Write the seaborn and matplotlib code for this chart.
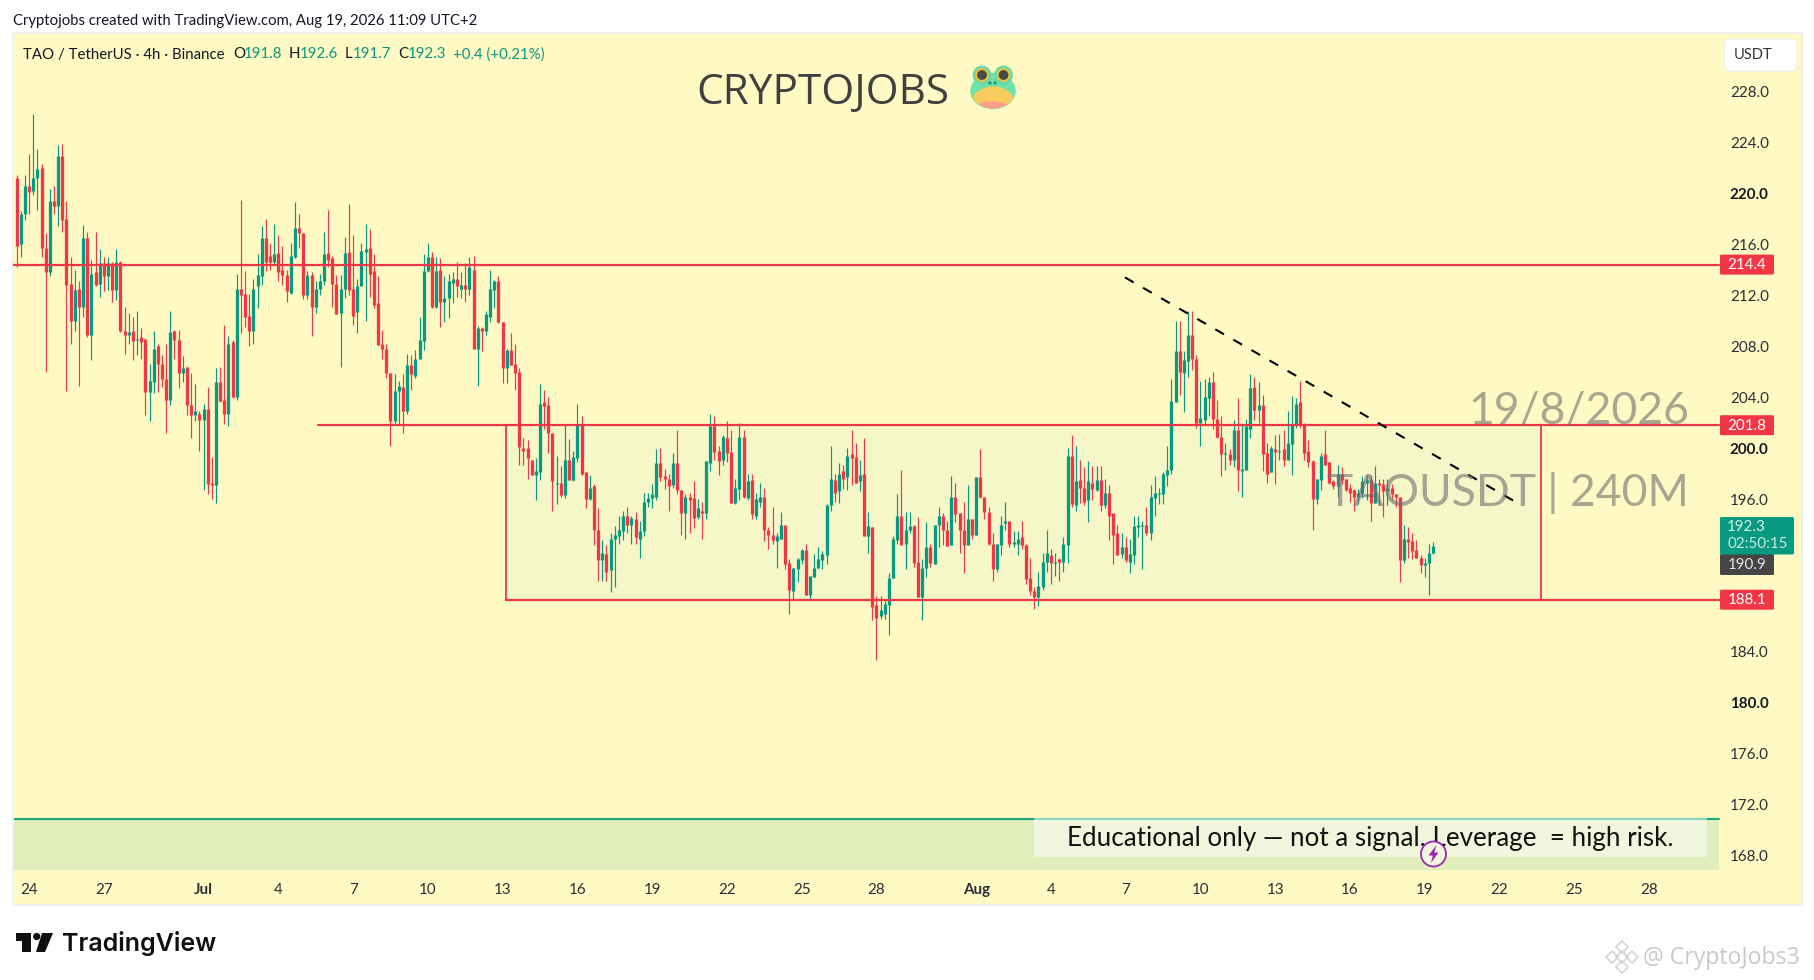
# Recreate TAOUSDT 4h chart (TradingView look) with seaborn

import pandas as pd
import seaborn as sns
import matplotlib.pyplot as plt
from matplotlib.patches import Rectangle, Ellipse, Circle, Polygon, FancyBboxPatch

# --- DATA ---
open_px = [
    221.2,216.0,218.4,220.6,220.2,221.2,222.0,215.7,213.8,219.4,
    219.0,222.9,218.0,212.9,210.0,212.5,211.1,216.5,208.9,213.8,
    212.9,214.5,213.5,214.5,212.4,214.6,209.2,208.9,209.2,208.5,
    208.7,208.6,204.4,205.2,208.0,206.6,205.4,203.8,209.2,208.5,
    205.9,206.4,203.4,202.6,202.7,202.2,203.1,197.3,197.1,205.2,
    203.8,202.7,208.3,204.0,212.5,212.1,210.4,209.2,212.7,213.5,
    216.5,215.1,214.6,215.3,214.0,213.6,212.2,215.0,217.3,216.9,
    212.0,213.6,211.1,212.5,213.1,215.3,214.9,212.9,210.6,212.5,
    215.4,212.5,210.7,212.7,215.4,215.7,213.9,211.4,208.2,207.8,
    205.9,202.1,204.5,204.8,202.9,206.5,205.7,207.0,208.4,213.9,
    215.0,211.1,214.0,211.5,211.8,213.0,213.3,212.5,212.8,212.5,
    214.0,207.8,209.4,209.2,210.3,212.4,213.1,209.9,206.3,207.7,
    206.6,206.0,200.0,200.0,199.1,197.9,198.1,203.6,203.4,201.2,
    197.2,197.3,196.3,199.1,197.5,199.2,201.9,198.1,196.0,197.0,193.6,
    191.2,191.7,190.4,192.9,193.1,193.5,194.7,194.0,194.4,192.9,
    193.5,195.8,196.1,196.2,198.8,197.8,197.6,197.1,198.8,196.7,
    194.9,196.2,196.1,194.6,195.1,194.9,198.8,201.7,199.8,199.1,
    200.8,199.7,195.7,196.8,200.9,196.1,197.5,194.7,195.8,196.2,
    193.6,193.2,192.7,192.9,194.0,191.0,188.8,190.5,191.2,192.0,
    188.5,189.9,190.6,191.2,191.6,195.5,197.5,196.6,198.2,197.7,
    199.5,199.3,197.4,198.0,193.1,193.8,187.7,186.8,187.0,187.7,
    189.8,192.8,194.7,192.5,193.6,193.9,191.1,188.3,190.6,192.2,
    190.9,194.0,194.7,193.6,192.4,196.2,194.9,193.6,192.4,194.4,
    193.2,197.7,196.2,195.0,192.5,190.5,192.4,194.1,194.3,192.5,
    192.5,193.0,192.4,189.8,188.8,188.3,189.1,191.1,191.6,191.0,
    191.3,191.1,192.4,199.4,195.5,197.5,196.9,195.9,197.3,196.7,
    197.5,195.5,196.5,194.9,193.3,191.7,192.2,191.1,191.6,193.8,
    193.9,194.0,193.3,196.1,196.4,196.4,197.9,
    198.3,203.6,207.6,205.9,206.8,208.9,207.0,202.0,202.2,203.9,
    205.2,202.3,200.9,199.5,199.5,199.1,201.4,198.2,198.3,201.5,
    204.8,203.0,203.4,199.6,198.1,199.9,199.7,199.9,199.1,200.3,
    201.8,203.6,201.9,199.8,199.0,196.0,197.5,199.5,198.9,197.4,
    197.0,198.0,197.6,196.9,196.7,196.2,196.5,197.3,197.5,195.7,
    197.3,197.2,196.6,196.9,196.4,196.2,191.2,192.9,192.7,192.0,
    191.4,190.8,191.0,191.8,
]
high_px = [
    221.4,218.6,221.4,223.1,226.2,223.5,222.3,216.9,220.3,220.6,
    223.8,223.9,219.4,215.0,214.0,213.1,217.5,217.0,214.8,217.0,
    215.6,215.0,215.0,214.6,215.6,214.7,211.1,210.6,210.3,210.8,
    209.4,208.6,206.6,209.2,208.2,207.3,208.2,210.8,209.3,209.3,
    207.2,206.4,205.9,205.0,202.9,203.5,204.8,199.3,206.3,206.4,
    209.7,208.8,208.5,213.7,219.5,213.9,212.1,213.3,215.2,217.4,
    218.0,216.1,217.6,216.7,215.9,214.0,216.1,219.3,218.4,216.9,
    213.9,213.8,213.1,213.7,217.0,218.7,215.1,213.6,213.6,216.6,
    219.2,216.7,213.3,216.1,217.6,217.2,215.2,213.5,209.3,208.2,
    205.9,205.8,205.3,205.8,207.4,207.3,207.7,210.3,215.2,216.1,
    215.4,215.0,214.9,213.5,213.7,213.8,214.6,213.8,214.5,215.0,
    215.1,209.6,209.5,210.8,214.0,213.2,213.5,209.9,207.8,209.0,
    208.2,206.3,200.8,200.6,199.1,199.2,205.0,204.6,204.0,201.2,
    199.4,198.6,201.9,200.7,199.8,203.5,202.5,198.1,197.9,197.2,195.3,
    192.8,192.4,193.3,193.9,194.7,195.1,195.4,194.7,195.0,194.3,
    196.5,196.5,197.2,199.9,200.0,198.4,198.0,199.6,201.4,196.7,
    196.4,196.5,197.4,196.0,195.8,199.0,202.7,202.5,200.2,201.0,
    202.1,201.4,197.6,202.0,201.4,198.0,198.0,196.5,197.3,196.9,
    193.8,195.4,193.3,195.0,194.0,191.3,190.6,191.4,192.1,192.5,
    190.0,191.7,192.2,191.9,195.6,200.2,198.0,198.8,198.7,200.0,
    201.4,200.4,199.1,200.8,195.0,193.8,188.4,188.4,188.1,190.2,
    193.1,196.4,198.3,195.0,195.0,194.0,194.6,191.3,194.2,192.5,
    194.0,195.4,194.9,194.3,197.8,197.3,194.9,195.8,197.1,194.4,
    197.7,199.9,196.2,195.4,193.3,192.5,194.7,195.8,194.3,193.5,
    193.5,194.3,192.5,191.4,189.1,190.3,191.8,193.6,192.1,191.8,
    191.4,193.0,200.0,201.0,200.2,199.1,198.5,199.0,198.6,198.6,
    198.6,197.6,197.1,194.9,194.0,193.3,193.0,192.9,194.7,194.7,
    194.3,195.4,197.1,197.8,196.9,198.1,200.2,
    205.4,210.0,210.0,207.6,210.8,210.8,207.3,205.3,205.4,205.6,
    206.0,203.8,202.5,200.4,199.9,202.2,203.9,201.8,202.3,205.8,
    205.6,205.2,204.2,200.4,200.2,201.0,201.1,201.4,202.9,204.1,
    203.9,205.3,202.0,200.6,199.1,197.6,199.6,201.4,198.9,197.5,
    198.7,198.5,197.6,197.2,196.8,196.8,197.8,197.9,197.9,198.6,
    197.6,197.6,197.6,197.2,196.4,196.2,194.0,193.8,193.3,192.8,
    191.6,191.4,192.5,192.6,
]
low_px = [
    214.2,215.0,217.9,218.4,219.9,218.7,215.0,206.0,213.5,218.4,
    217.4,217.0,204.5,208.2,209.2,204.9,210.3,208.7,206.9,212.7,
    211.9,212.3,212.4,211.5,211.6,209.1,207.4,208.2,206.9,207.3,
    207.0,202.6,202.1,204.3,204.4,204.8,201.2,203.4,207.0,204.7,
    205.2,202.6,200.8,202.1,199.8,196.7,196.4,196.0,195.7,203.6,
    201.9,201.7,203.9,203.8,209.0,209.5,208.0,208.2,211.0,212.8,
    213.9,214.0,214.4,213.1,212.8,211.5,212.1,214.9,215.7,211.7,
    211.7,208.8,210.6,212.0,212.8,214.2,211.1,210.5,206.4,211.8,
    212.0,209.7,209.0,212.7,210.0,211.9,211.0,208.1,207.0,205.5,
    200.2,201.8,201.9,201.2,202.7,204.6,205.5,207.0,207.7,213.8,
    211.0,211.0,209.5,209.9,210.2,211.4,211.9,211.8,211.5,212.0,
    207.8,204.9,207.6,208.9,209.9,211.0,209.8,205.1,205.1,206.5,
    204.6,198.7,198.7,197.6,197.9,195.9,197.5,201.5,199.6,195.1,
    195.6,196.2,196.1,197.5,197.4,198.9,197.9,195.3,195.9,192.4,189.6,
    189.6,189.6,188.7,189.1,192.5,192.8,193.3,192.5,192.5,191.4,
    193.1,195.4,195.3,195.9,197.4,196.8,195.1,196.9,196.4,193.2,
    192.9,193.3,193.7,194.4,192.9,194.4,198.2,199.1,197.9,198.7,
    198.9,195.7,195.6,195.9,196.1,195.9,194.4,194.4,195.4,192.7,
    192.1,192.5,190.6,192.9,190.5,187.0,188.1,189.5,190.9,188.5,
    188.1,189.9,190.6,190.5,190.9,195.1,195.8,195.7,196.8,196.7,
    197.1,197.3,196.6,193.1,191.8,186.5,183.4,186.6,186.6,185.3,
    189.8,192.5,192.4,190.5,193.3,190.7,188.3,186.5,189.9,190.7,
    190.9,192.2,192.4,192.3,192.4,194.2,191.8,190.2,192.4,192.9,
    193.2,196.1,194.4,192.4,189.6,190.3,191.6,193.6,192.2,192.2,
    191.6,192.1,189.3,188.5,187.4,187.6,188.9,190.3,189.3,190.0,
    189.6,190.3,191.0,195.4,195.1,195.7,195.5,194.2,195.9,196.6,
    195.1,195.3,192.8,190.9,191.6,191.4,191.1,190.2,190.9,193.0,
    190.5,193.2,192.8,194.7,195.6,195.6,197.0,
    198.0,203.6,204.2,202.8,205.6,206.1,201.6,200.2,201.8,202.5,
    201.5,200.8,197.8,198.3,198.7,198.5,196.6,196.2,198.3,200.8,
    202.2,202.0,198.2,197.3,198.1,197.2,199.1,198.6,199.1,197.9,
    201.6,201.6,199.1,198.5,193.6,195.6,196.7,198.7,197.2,196.8,
    196.2,197.2,196.6,195.8,195.1,195.6,196.1,195.9,194.3,195.7,
    195.5,194.6,195.5,195.9,195.4,189.5,191.0,191.4,191.3,191.4,
    190.2,189.9,188.5,191.7,
]
close_px = [
    215.9,218.4,220.6,220.1,221.2,221.9,215.7,213.8,219.4,219.0,
    222.9,217.9,212.8,210.0,212.4,211.1,216.5,208.9,213.7,212.8,
    214.5,213.5,214.5,212.4,214.6,209.2,208.9,209.1,208.4,208.6,
    208.3,204.4,205.3,207.8,206.6,205.4,203.8,209.1,208.5,205.9,
    206.3,203.4,202.6,202.9,202.2,203.1,197.2,197.1,205.2,203.7,
    202.7,208.2,204.0,212.5,212.0,210.3,209.2,212.5,213.6,216.5,
    214.6,214.6,215.2,213.8,213.6,212.3,215.1,217.3,216.9,212.0,
    213.6,211.1,212.5,213.1,215.2,214.8,212.9,210.5,212.5,215.3,
    212.4,210.4,212.7,215.5,215.6,213.7,211.2,208.1,207.8,205.9,
    202.1,204.5,204.9,202.9,206.5,205.8,207.0,208.5,213.9,215.0,
    211.1,213.9,211.5,211.8,213.1,213.3,212.7,212.8,212.5,214.2,
    207.8,209.4,209.2,210.5,212.5,213.1,209.9,206.3,207.7,206.5,
    205.9,200.1,199.8,199.2,197.9,198.2,203.5,203.3,201.2,197.4,
    197.3,196.3,199.1,197.5,199.3,201.9,198.0,196.0,196.9,193.6,191.2,
    191.8,190.3,192.9,193.2,193.6,194.7,194.0,194.5,193.0,193.5,
    195.8,196.1,196.4,198.8,197.7,197.6,197.0,198.8,196.7,194.9,
    196.2,195.9,194.5,195.3,194.9,199.0,201.7,199.7,199.0,200.9,
    199.6,195.7,196.9,200.9,196.2,197.4,194.8,196.0,196.2,193.6,
    193.2,192.8,193.1,194.0,190.9,188.9,190.6,191.3,192.0,188.5,
    190.0,190.6,191.3,191.7,195.5,197.6,196.5,198.0,197.6,199.4,
    199.2,197.3,197.9,193.1,193.9,187.5,186.7,187.3,187.8,189.8,
    192.9,194.7,192.4,193.6,193.9,191.0,188.3,190.6,192.2,191.0,
    194.0,194.7,193.6,192.3,196.2,194.8,193.6,192.4,194.4,193.2,
    197.7,196.2,195.0,192.5,190.5,192.5,194.0,194.3,192.5,192.6,
    192.9,192.4,189.7,188.8,188.3,189.2,191.1,191.8,191.0,191.1,
    191.1,192.5,199.4,195.6,197.4,196.9,195.8,197.4,196.8,197.5,
    195.5,196.5,194.7,193.2,191.6,192.2,191.2,191.7,193.9,194.0,
    194.0,193.3,196.2,196.5,196.5,198.0,198.3,
    203.7,207.6,206.0,206.9,208.9,207.0,202.0,202.4,204.0,205.2,
    202.3,200.9,199.5,199.6,199.1,201.4,198.3,198.4,201.7,204.7,
    203.0,203.4,199.5,198.0,200.0,199.7,199.8,199.1,200.4,201.9,
    203.5,201.8,199.6,198.9,196.0,197.6,199.4,198.7,197.3,197.0,
    198.0,197.5,196.7,196.5,196.2,196.5,197.4,197.5,195.7,197.3,
    197.1,196.6,196.9,196.4,196.2,191.2,192.9,192.6,191.9,191.4,
    190.8,191.0,191.8,192.3,
]

price_ticks = [168, 172, 176, 180, 184, 196, 200, 204, 208, 212, 216, 220, 224, 228]
bold_prices = [180, 200, 220]
x_tick_days = [0, 3, 7, 10, 13, 16, 19, 22, 25, 28, 31, 34, 38, 41, 44, 47, 50, 53, 56, 59, 62, 65]
x_tick_labels = ["24", "27", "Jul", "4", "7", "10", "13", "16", "19", "22", "25", "28",
                 "Aug", "4", "7", "10", "13", "16", "19", "22", "25", "28"]
bold_x_labels = ["Jul", "Aug"]

level_top = 214.4
level_mid = 201.8
level_low = 188.1
band_top = 170.9
band_bottom = 166.9
trend_prices = [213.4, 195.85]

# --- COLORS ---
BG = "#FFF9C3"
GREEN = "#089981"
RED = "#F23645"
BOX_FILL = "#F5F7C9"
BAND_FILL = "#E0EEBC"
BAND_LINE = "#1FA67F"

# --- CONFIG ---
sns.set_theme(style="white")
plt.rcParams["font.family"] = ["Lato", "DejaVu Sans"]

W, H = 1814, 980
fig = plt.figure(figsize=(W / 100, H / 100), dpi=100, facecolor="white")
ax = fig.add_axes([13 / W, (H - 905) / H, (1802 - 13) / W, (905 - 33) / H], facecolor=BG)


# helper: pixel column on the picture -> candle index on the x axis
def ix(px):
    return (px - 16.6) / 4.154


# --- CANDLES ---
df = pd.DataFrame({"o": open_px, "h": high_px, "l": low_px, "c": close_px})
df["i"] = range(len(df))
df["dir"] = ["up" if c >= o else "down" for o, c in zip(df["o"], df["c"])]
wicks = df.melt(id_vars=["i", "dir"], value_vars=["l", "h"], value_name="price")
bodies = df.melt(id_vars=["i", "dir"], value_vars=["o", "c"], value_name="price")
pal = {"up": GREEN, "down": RED}

ax.add_patch(Rectangle((ix(506), level_low), ix(1541) - ix(506), level_mid - level_low,
                       facecolor=BOX_FILL, edgecolor=RED, linewidth=1.3, zorder=1))
ax.axhspan(band_bottom, band_top, xmax=(1719 - 13) / (1802 - 13), color=BAND_FILL, lw=0, zorder=1)

sns.lineplot(data=wicks, x="i", y="price", hue="dir", units="i", estimator=None, palette=pal,
             legend=False, ax=ax, linewidth=0.85, solid_capstyle="butt", zorder=2)
sns.lineplot(data=bodies, x="i", y="price", hue="dir", units="i", estimator=None, palette=pal,
             legend=False, ax=ax, linewidth=2.35, solid_capstyle="butt", zorder=2.1)

# --- DRAWINGS ---
pane_end = ix(1719)
ax.plot([ix(13), pane_end], [level_top, level_top], color=RED, lw=1.6, zorder=3)
ax.plot([ix(318), pane_end], [level_mid, level_mid], color=RED, lw=1.6, zorder=3)
ax.plot([ix(506), pane_end], [level_low, level_low], color=RED, lw=1.6, zorder=3)
ax.plot([ix(1125), ix(1514)], trend_prices, color="black", lw=1.5, dashes=(4.8, 5.2), zorder=3.2)
ax.plot([ix(13), pane_end], [band_top, band_top], color=BAND_LINE, lw=1.5, zorder=2.5)
ax.add_patch(Rectangle((ix(1034), 167.9), ix(1707) - ix(1034), band_top + 0.1 - 167.9,
                       facecolor="white", alpha=0.5, lw=0, zorder=2.6))

# --- AXES ---
ax.set_xlim(ix(13), ix(1802))
ax.set_ylim(228 - (905 - 91.4) / 12.74, 228 + (91.4 - 33) / 12.74)
ax.set_xlabel("")
ax.set_ylabel("")
ax.yaxis.tick_right()
ax.set_yticks(price_ticks)
ax.set_yticklabels([f"{t:.1f}" for t in price_ticks])
ax.tick_params(axis="y", length=0, pad=-52, labelsize=10.9, labelcolor="#2a2e39")
for lab, t in zip(ax.get_yticklabels(), price_ticks):
    if t in bold_prices:
        lab.set_fontweight("bold")
        lab.set_color("#131722")
ax.set_xticks([3 + 6 * d for d in x_tick_days])
ax.set_xticklabels(x_tick_labels)
ax.tick_params(axis="x", length=0, pad=-16.2, labelsize=10.9, labelcolor="#2a2e39")
for lab in ax.get_xticklabels():
    if lab.get_text() in bold_x_labels:
        lab.set_fontweight("bold")
for s in ax.spines.values():
    s.set_color("#EFEFEF")
    s.set_linewidth(1.5)

# watermark text over the candles
ax.text(ix(1689), 202.9, "19/8/2026", ha="right", va="center", fontsize=32, color="#6E6E6E",
        alpha=0.6, zorder=4, family="Lato")
ax.text(ix(1689), 196.5, "TAOUSDT | 240M", ha="right", va="center", fontsize=32, color="#6E6E6E",
        alpha=0.6, zorder=4, family="Lato")

# --- OVERLAY IN PICTURE PIXELS (header, badges, logos) ---
ov = fig.add_axes([0, 0, 1, 1], zorder=10)
ov.set_xlim(0, W)
ov.set_ylim(H, 0)
ov.axis("off")

ov.text(13, 21, "Cryptojobs created with TradingView.com, Aug 19, 2026 11:09 UTC+2",
        fontsize=10.7, color="#131722", va="center")

legend_parts = [
    (23, "TAO / TetherUS · 4h · Binance", "#131722"),
    (233, "O", "#131722"), (244, "191.8", GREEN),
    (289, "H", "#131722"), (300, "192.6", GREEN),
    (345, "L", "#131722"), (353, "191.7", GREEN),
    (398, "C", "#131722"), (408, "192.3", GREEN),
    (453, "+0.4 (+0.21%)", GREEN),
]
for x, s, col in legend_parts:
    ov.text(x, 54.5, s, fontsize=10.8, color=col, va="center")

ov.text(696, 93, "CRYPTOJOBS", fontsize=30.4, color="#404040", va="center", family="Open Sans")

# frog
head = Ellipse((993, 91), 44, 35, color="#6BE3A9", zorder=2)
ov.add_patch(head)
for ex in (982, 1003.5):
    ov.add_patch(Circle((ex, 75), 8.7, color="#6BD6A6", zorder=2))
    ov.add_patch(Circle((ex, 75), 6, color="#F5C52B", zorder=3))
    ov.add_patch(Circle((ex, 75), 4.2, color="#4A4A4A", zorder=4))
belly = Ellipse((993, 108), 46, 42, color="#F9CB5C", zorder=3)
ov.add_patch(belly)
belly.set_clip_path(head)
pink = Ellipse((993, 122), 56, 40, color="#FF9E8C", zorder=4)
ov.add_patch(pink)
pink.set_clip_path(head)
for nx in (990, 995):
    ov.add_patch(Circle((nx, 83), 0.9, color="#3C8C6C", zorder=5))

# USDT button
ov.add_patch(FancyBboxPatch((1724, 39), 73, 32, boxstyle="round,pad=0,rounding_size=6",
                            fc="white", ec="#F0F0F0", lw=1, zorder=2))
ov.text(1753, 55, "USDT", fontsize=10.5, color="#333333", ha="center", va="center", zorder=3)

# price badges
red_badges = [("214.4", 264.6), ("201.8", 425.2), ("188.1", 599.7)]
for s, y in red_badges:
    ov.add_patch(FancyBboxPatch((1720, y - 10), 54, 20, boxstyle="round,pad=0,rounding_size=1.5",
                                fc=RED, ec="none", zorder=3))
    ov.text(1747, y + 0.5, s, fontsize=10.9, color="white", ha="center", va="center", zorder=4)

ov.add_patch(FancyBboxPatch((1720, 554), 54, 21, boxstyle="round,pad=0,rounding_size=1.5",
                            fc="#454545", ec="none", zorder=3))
ov.text(1747, 565, "190.9", fontsize=10.9, color="#E4E4E4", ha="center", va="center", zorder=4)
ov.add_patch(FancyBboxPatch((1720, 517), 74, 37.5, boxstyle="round,pad=0,rounding_size=1.5",
                            fc=GREEN, ec="none", zorder=3))
ov.text(1727, 527, "192.3", fontsize=10.9, color="#D8F0E8", va="center", zorder=4)
ov.text(1727, 544, "02:50:15", fontsize=10.9, color="#C8EADF", va="center", zorder=4)

# disclaimer + bolt marker
ov.text(1067, 838, "Educational only — not a signal. Leverage  = high risk.",
        fontsize=18.75, color="#111111", va="center", zorder=2)
ov.add_patch(Circle((1433.5, 854), 12.5, fc="#F4F7E0", ec="#9C27B0", lw=1.3, zorder=3))
ov.add_patch(Polygon([(1436.5, 845), (1428.5, 855.5), (1432.8, 855.5), (1431, 863),
                      (1438.5, 852.5), (1434.2, 852.5)], fc="#9C27B0", ec="none", zorder=4))

# TradingView logo
ov.add_patch(Polygon([(15.5, 933), (31, 933), (31, 952), (22, 952), (22, 941), (15.5, 941)], fc="#0F0F0F", ec="none"))
ov.add_patch(Circle((36.7, 936.5), 3.6, fc="#0F0F0F", ec="none"))
ov.add_patch(Polygon([(42, 933), (53, 933), (45, 952), (36, 952)], fc="#0F0F0F", ec="none"))
ov.text(62, 943.5, "TradingView", fontsize=18, fontweight="semibold", color="#0F0F0F",
        va="center", family="Inter")

# bottom right watermark
for dx, dy in [(0, 0), (-10, 0), (10, 0), (0, -10), (0, 10)]:
    ov.plot(1622 + dx, 957 + dy, marker="D", ms=6, mfc="none", mec="#D5D5D5", mew=1.2)
ov.text(1643, 958, "@ CryptoJobs3", fontsize=16.6, color="#C9C9C9", va="center", family="Open Sans")

fig.savefig("out.png", dpi=100, facecolor="white")
plt.close(fig)
